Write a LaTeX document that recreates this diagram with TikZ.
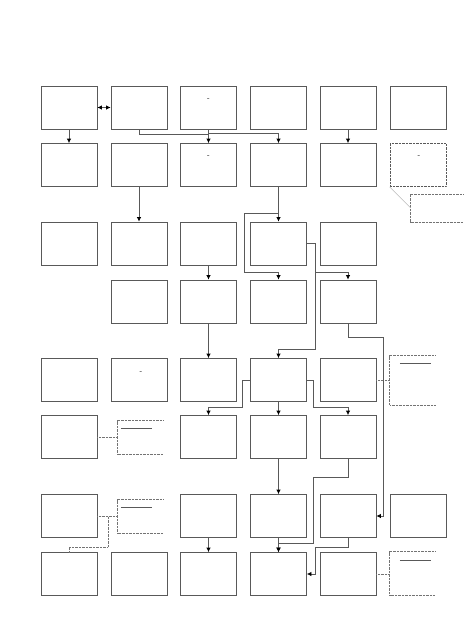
\documentclass[tikz,border=0pt]{standalone}
\usetikzlibrary{arrows.meta}
\begin{document}
\begin{tikzpicture}[
    x=1pt, y=-1pt,
    box/.style={rectangle, draw=black!65, fill=white, line width=0.8pt, minimum width=56pt, minimum height=43pt, inner sep=0pt},
    dotbox/.style={box, dash pattern=on 0.7pt off 0.7pt},
    blank/.style={rectangle, inner sep=0pt},
    dashmark/.style={inner sep=0pt, font=\scriptsize},
    tip/.tip={Latex[length=4.5pt,width=4.5pt,black]},
    arrow/.style={-tip, draw=black!65, line width=0.8pt},
    link/.style={draw=black!65, line width=0.8pt},
    dotlink/.style={draw=black!55, line width=0.7pt, dash pattern=on 0.7pt off 0.7pt}
]
\useasboundingbox (0,0) rectangle (474,632);

% row 1
\node[box] (b11) at (69,107.5) {};
\node[box] (b12) at (139,107.5) {};
\node[box] (b13) at (208.5,107.5) {};
\node[box] (b14) at (278.5,107.5) {};
\node[box] (b15) at (348,107.5) {};
\node[box] (b16) at (418,107.5) {};
% row 2
\node[box] (b21) at (69,165) {};
\node[box] (b22) at (139,165) {};
\node[box] (b23) at (208.5,165) {};
\node[box] (b24) at (278.5,165) {};
\node[box] (b25) at (348,165) {};
\node[dotbox] (b26) at (418,165) {};
\node[blank, minimum width=52pt, minimum height=27.5pt] (c26) at (437,208) {};
% row 3
\node[box] (b31) at (69,243.5) {};
\node[box] (b32) at (139,243.5) {};
\node[box] (b33) at (208.5,243.5) {};
\node[box] (b34) at (278.5,243.5) {};
\node[box] (b35) at (348,243.5) {};
% row 4
\node[box] (b42) at (139,301.5) {};
\node[box] (b43) at (208.5,301.5) {};
\node[box] (b44) at (278.5,301.5) {};
\node[box] (b45) at (348,301.5) {};
% row 5
\node[box] (b51) at (69,380) {};
\node[box] (b52) at (139,380) {};
\node[box] (b53) at (208.5,380) {};
\node[box] (b54) at (278.5,380) {};
\node[box] (b55) at (348,380) {};
\node[blank, minimum width=45pt, minimum height=49pt] (n5) at (412.5,380.5) {};
% row 6
\node[box] (b61) at (69,437) {};
\node[blank, minimum width=45pt, minimum height=33pt] (n6) at (140.5,437.5) {};
\node[box] (b63) at (208.5,437) {};
\node[box] (b64) at (278.5,437) {};
\node[box] (b65) at (348,437) {};
% row 7
\node[box] (b71) at (69,516) {};
\node[blank, minimum width=45pt, minimum height=33pt] (n7) at (140.5,516.5) {};
\node[box] (b73) at (208.5,516) {};
\node[box] (b74) at (278.5,516) {};
\node[box] (b75) at (348,516) {};
\node[box] (b76) at (418,516) {};
% row 8
\node[box] (b81) at (69,574) {};
\node[box] (b82) at (139,574) {};
\node[box] (b83) at (208.5,574) {};
\node[box] (b84) at (278.5,574) {};
\node[box] (b85) at (348,574) {};
\node[blank, minimum width=45pt, minimum height=43pt] (n8) at (412.5,573.5) {};

% small marks
\node[dashmark] (d13) at (208.5,100) {-};
\node[dashmark] (d23) at (208.5,157) {-};
\node[dashmark] (d26) at (419,157) {-};
\node[dashmark] (d52) at (141,372.5) {-};

% notes
\draw[dotlink] (c26.north east) -- (c26.north west) -- (c26.south west) -- (c26.south east);
\draw[gray!55, line width=0.6pt] (b26.south west) -- (c26.west);
\draw[dotlink] (n5.north east) -- (n5.north west) -- (n5.south west) -- (n5.south east);
\draw[link] ([xshift=10pt,yshift=-8pt]n5.north west) -- ++(31,0);
\draw[dotlink] (n6.north east) -- (n6.north west) -- (n6.south west) -- (n6.south east);
\draw[link] ([xshift=3pt,yshift=-8pt]n6.north west) -- ++(31,0);
\draw[dotlink] (n7.north east) -- (n7.north west) -- (n7.south west) -- (n7.south east);
\draw[link] ([xshift=3pt,yshift=-8pt]n7.north west) -- ++(31,0);
\draw[dotlink] (n8.north east) -- (n8.north west) -- (n8.south west) -- (n8.south east);
\draw[link] ([xshift=10pt,yshift=-9pt]n8.north west) -- ++(31,0);
\draw[dotlink] (b55.east) -- (b55.east -| n5.west);
\draw[dotlink] (b61.east) -- (b61.east -| n6.west);
\draw[dotlink] (b71.east) -- (b71.east -| n7.west);
\draw[dotlink] (b71.east) -- ++(10.5,0) -- ++(0,31) -| (b81.north);
\draw[dotlink] (b85.east) -- (b85.east -| n8.west);

% connectors
\draw[tip-tip, link] (b11) -- (b12);
\draw[arrow] (b11) -- (b21);
\draw[arrow] (b12.south) -- ++(0,5) -| (b23.north);
\draw[arrow] (b13.south) -- ++(0,4) -| (b24.north);
\draw[arrow] (b15) -- (b25);
\draw[arrow] (b22) -- (b32);
\draw[arrow] (b24) -- (b34);
\draw[arrow] (b24.south) -- ++(0,26) -- ++(-34,0) -- ++(0,59.5) -| (b44.north);
\draw[arrow] (b33) -- (b43);
\draw[arrow] (b34.east) -- ++(8.5,0) -- ++(0,28.5) -| (b45.north);
\draw[arrow] (b34.east) -- ++(8.5,0) -- ++(0,105.5) -| (b54.north);
\draw[arrow] (b43) -- (b53);
\draw[arrow] (b45.south) -- ++(0,14) -- ++(35,0) |- (b75.east);
\draw[arrow] (b54.west) -- ++(-8,0) -- ++(0,27) -| (b63.north);
\draw[arrow] (b54) -- (b64);
\draw[arrow] (b54.east) -- ++(6.5,0) -- ++(0,27) -| (b65.north);
\draw[arrow] (b64) -- (b74);
\draw[arrow] (b65.south) -- ++(0,18) -- ++(-35,0) -- ++(0,66) -| (b84.north);
\draw[arrow] (b74) -- (b84);
\draw[arrow] (b75.south) -- ++(0,9) -- ++(-33,0) |- (b84.east);
\draw[arrow] (b73) -- (b83);

\end{tikzpicture}
\end{document}
